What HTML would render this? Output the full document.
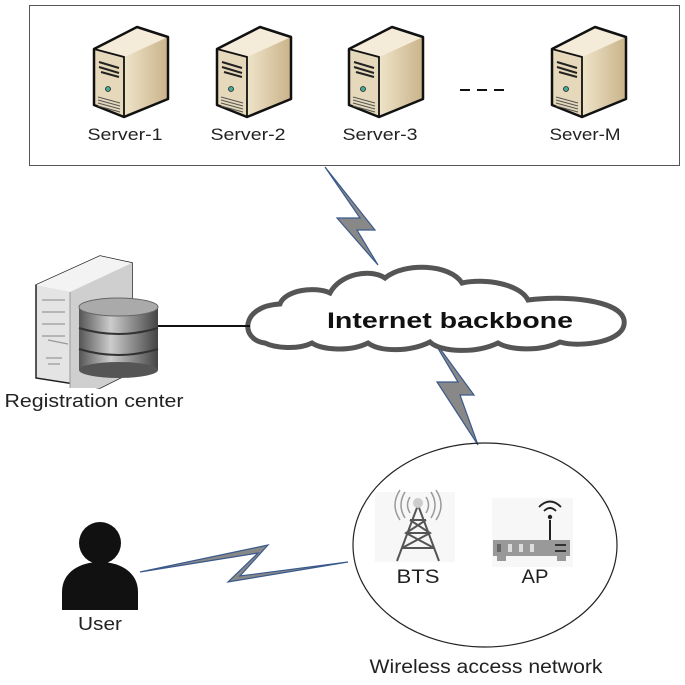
<!DOCTYPE html>
<html><head><style>
body{margin:0;background:#fff;}
svg text{font-family:"Liberation Sans",sans-serif;}
</style></head><body>
<svg width="685" height="680" viewBox="0 0 685 680" xmlns="http://www.w3.org/2000/svg">
<defs>
<linearGradient id="srv" x1="0" x2="1"><stop offset="0" stop-color="#efe4c9"/><stop offset="1" stop-color="#c9b38a"/></linearGradient>
<linearGradient id="db" x1="0" x2="1"><stop offset="0" stop-color="#555"/><stop offset="0.4" stop-color="#ccc"/><stop offset="1" stop-color="#444"/></linearGradient>
<g id="server">
<path d="M2,22 L45,0 L76,10 L32,30 Z" fill="#f4ecd8"/>
<path d="M32,30 L76,10 L76,72 L32,90 Z" fill="url(#srv)"/>
<path d="M2,22 L32,30 L32,90 L2,78 Z" fill="#e6d9bb"/>
<path d="M2,22 L45,0 L76,10 L76,72 L32,90 L2,78 Z" fill="none" stroke="#111" stroke-width="2.5" stroke-linejoin="round"/>
<path d="M2,22 L32,30 L32,90" fill="none" stroke="#111" stroke-width="1.8"/>
<path d="M7,35 L27,41 M7,40 L27,46 M9,45 L27,50" stroke="#222" stroke-width="2"/>
<circle cx="16" cy="62" r="2.5" fill="#4a9" stroke="#222" stroke-width="0.8"/>
<path d="M6,70 L28,76 M6,73 L28,79 M6,76 L28,82 M6,79 L28,85" stroke="#555" stroke-width="1"/>
</g>
</defs>
<rect x="29.5" y="5.5" width="650" height="160" fill="#fff" stroke="#555" stroke-width="1"/>
<use href="#server" x="92" y="27"/>
<use href="#server" x="215" y="27"/>
<use href="#server" x="347" y="27"/>
<use href="#server" x="550" y="27"/>
<path d="M460,90 H470 M477,90 H487 M494,90 H504" stroke="#111" stroke-width="2"/>
<g font-size="17" fill="#222" text-anchor="middle" lengthAdjust="spacingAndGlyphs">
<text x="125" y="140" textLength="75" lengthAdjust="spacingAndGlyphs">Server-1</text>
<text x="248" y="140" textLength="75" lengthAdjust="spacingAndGlyphs">Server-2</text>
<text x="380" y="140" textLength="75" lengthAdjust="spacingAndGlyphs">Server-3</text>
<text x="585" y="140" textLength="71" lengthAdjust="spacingAndGlyphs">Sever-M</text>
</g>
<!-- lightning 1 -->
<path d="M325,167 L360,218 L337,218 L378,265 L357,230 L375,230 Z" fill="#888" stroke="#3a5a8c" stroke-width="1.2"/>
<!-- lightning 2 -->
<path d="M430,335 L458,382 L437,382 L478,445 L460,395 L474,395 Z" fill="#888" stroke="#3a5a8c" stroke-width="1.2"/>
<!-- lightning 3 -->
<path d="M140,572 L258,553 L228,582 L348,562 L240,576 L268,545 Z" fill="#888" stroke="#3a5a8c" stroke-width="1.2"/>
<!-- cloud -->
<path d="M265,343 C240,340 240,306 280,304 C285,290 315,286 330,293 C340,274 370,268 385,278 C405,262 450,264 462,283 C485,278 520,284 528,300 C565,295 620,300 624,320 C628,342 580,348 560,342 C540,352 510,350 498,343 C475,354 440,352 430,342 C410,352 380,352 368,343 C350,352 322,350 312,343 C298,350 275,348 265,343 Z" fill="#fff" stroke="#555" stroke-width="5"/>
<text x="450" y="328" font-size="22" font-weight="bold" text-anchor="middle" fill="#111" textLength="246" lengthAdjust="spacingAndGlyphs">Internet backbone</text>
<line x1="158" y1="326" x2="250" y2="326" stroke="#111" stroke-width="2"/>
<!-- registration center -->
<path d="M36,285 L100,256 L132,263 L132,372 L100,388 L36,378 Z" fill="#e4e4e4" stroke="#222" stroke-width="1.5"/>
<path d="M36,285 L100,256 L132,263 L70,292 Z" fill="#f3f3f3"/>
<path d="M70,292 L132,263 L132,372 L100,388 L70,388 Z" fill="#cfcfcf"/>
<path d="M70,292 L70,388" stroke="#999"/>
<path d="M42,300 L65,300 M42,312 L65,312 M42,324 L65,324 M42,336 L65,336 M48,340 L68,344 M46,358 L62,358 M48,364 L60,364" stroke="#999" stroke-width="1.2"/>
<rect x="79" y="308" width="79" height="62" fill="url(#db)"/>
<ellipse cx="118.5" cy="370" rx="39.5" ry="8" fill="#555"/>
<ellipse cx="118.5" cy="307" rx="39.5" ry="9" fill="#aaa" stroke="#666"/>
<path d="M79,328 Q118,340 158,328 M79,349 Q118,361 158,349" fill="none" stroke="#333" stroke-width="2"/>
<text x="94" y="407" font-size="18" text-anchor="middle" fill="#222" textLength="179" lengthAdjust="spacingAndGlyphs">Registration center</text>
<!-- wireless circle -->
<ellipse cx="485" cy="545" rx="132" ry="102" fill="none" stroke="#222" stroke-width="1.2"/>
<!-- BTS -->
<rect x="375" y="492" width="80" height="70" fill="#f7f7f7"/>
<g stroke="#555" stroke-width="2" fill="none">
<path d="M418,505 L397,561 M418,505 L439,561 M402,548 L434,548 M406,533 L430,533 M410,520 L426,520 M402,548 L430,533 L410,520 M434,548 L406,533 L426,520"/>
<path d="M410,497 Q405,505 410,513 M426,497 Q431,505 426,513 M405,492 Q397,505 405,518 M431,492 Q439,505 431,518 M400,490 Q390,505 400,520 M436,490 Q446,505 436,520" stroke="#999" stroke-width="1.5"/>
</g>
<circle cx="418" cy="503" r="5" fill="#ccc"/>
<text x="418" y="583" font-size="19" text-anchor="middle" fill="#222" textLength="43" lengthAdjust="spacingAndGlyphs">BTS</text>
<!-- AP -->
<rect x="492" y="498" width="81" height="69" fill="#f7f7f7"/>
<rect x="493" y="540" width="77" height="16" fill="#999"/>
<path d="M497,556 h9 v5 h-9 Z M557,556 h9 v5 h-9 Z" fill="#999"/>
<line x1="550" y1="520" x2="550" y2="540" stroke="#222" stroke-width="2"/>
<circle cx="550" cy="517" r="2.2" fill="#222"/>
<path d="M544,511 Q550,505 556,511 M539,507 Q550,496 561,507" fill="none" stroke="#222" stroke-width="1.8"/>
<g fill="#ddd"><rect x="508" y="544" width="4" height="8"/><rect x="519" y="544" width="4" height="8"/><rect x="530" y="544" width="4" height="8"/></g>
<rect x="497" y="544" width="4" height="8" fill="#666"/>
<path d="M555,545 h11 M555,551 h11" stroke="#333" stroke-width="2"/>
<text x="535" y="583" font-size="19" text-anchor="middle" fill="#222" textLength="27" lengthAdjust="spacingAndGlyphs">AP</text>
<!-- user -->
<circle cx="100" cy="543" r="21" fill="#111"/>
<path d="M62,610 L62,592 C62,572 80,562 100,562 C120,562 138,572 138,592 L138,610 Z" fill="#111"/>
<text x="100" y="630" font-size="18" text-anchor="middle" fill="#222" textLength="44" lengthAdjust="spacingAndGlyphs">User</text>
<text x="486" y="673" font-size="19" text-anchor="middle" fill="#222" textLength="233" lengthAdjust="spacingAndGlyphs">Wireless access network</text>
</svg>
</body></html>
